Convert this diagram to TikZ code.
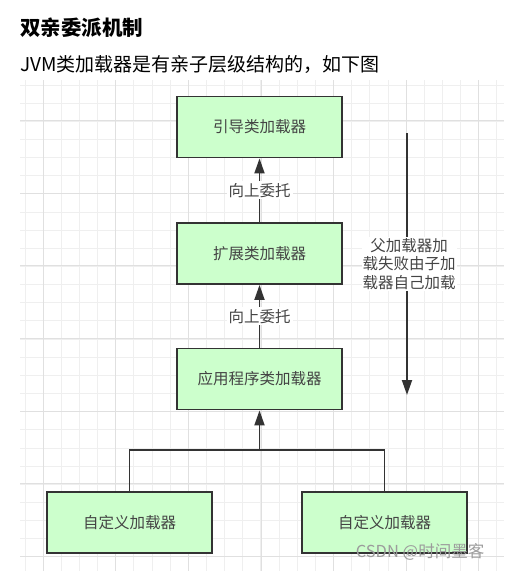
\documentclass[tikz,border=0pt]{standalone}
\usepackage{fontspec}
\setmainfont{Noto Sans CJK SC}
\usetikzlibrary{arrows.meta}
\definecolor{boxfill}{HTML}{CCFFCC}
\definecolor{edge}{HTML}{333333}
\definecolor{txt}{HTML}{444444}
\definecolor{gridminor}{HTML}{EFEFEF}
\definecolor{gridmajor}{HTML}{E0E0E0}
\definecolor{wm}{HTML}{9C9C9C}
\tikzset{
  loaderbox/.style={draw=edge, line width=1.9pt, fill=boxfill, minimum width=165pt, minimum height=61pt, inner sep=0pt, text=txt, font=\fontsize{15.5}{18.5}\selectfont},
  conn/.style={draw=edge, line width=1.9pt},
  arr/.style={conn, -{Triangle[length=15pt,width=10pt]}},
  lbl/.style={fill=white, inner sep=2pt, text=txt, font=\fontsize{15.5}{18.5}\selectfont},
  sidelbl/.style={fill=white, inner sep=1pt, text=txt, align=center, font=\fontsize{15.5}{18.5}\selectfont},
}
\begin{document}
\begin{tikzpicture}[x=1pt,y=-1pt]
\useasboundingbox (0,0) rectangle (504,571);
\fill[white] (0,0) rectangle (504,571);
% grid
\foreach \k in {0,...,26}{
  \draw[gridminor, line width=1pt] ({25+18.15*\k},80) -- ({25+18.15*\k},571);
  \draw[gridminor, line width=1pt] (20,{85+18.15*\k}) -- (504,{85+18.15*\k});
}
\foreach \m in {0,...,6}{
  \draw[gridmajor, line width=1pt] ({43.3+72.6*\m},80) -- ({43.3+72.6*\m},571);
  \draw[gridmajor, line width=1pt] (20,{120.7+72.6*\m}) -- (504,{120.7+72.6*\m});
}
% headings
\node[anchor=west, inner sep=0pt, font=\fontsize{20.5}{24}\selectfont\bfseries] (title) at (20,28) {双亲委派机制};
\node[anchor=west, inner sep=0pt, font=\fontsize{19}{23}\selectfont] (sub) at (20,64) {JVM类加载器是有亲子层级结构的，如下图};
% boxes
\node[loaderbox] (boot) at (259.5,127) {引导类加载器};
\node[loaderbox] (ext) at (259.5,253.5) {扩展类加载器};
\node[loaderbox] (app) at (259.5,379) {应用程序类加载器};
\node[loaderbox] (c1) at (129.5,522.5) {自定义加载器};
\node[loaderbox] (c2) at (384.5,522.5) {自定义加载器};
% connectors
\draw[arr] (ext.north) -- node[lbl] (l1) {向上委托} (boot.south);
\draw[arr] (app.north) -- node[lbl] (l2) {向上委托} (ext.south);
\coordinate (j) at (259.5,450);
\draw[conn] (c1.north) |- (j) -| (c2.north);
\draw[arr] (j) -- (app.south);
% side arrow
\coordinate (rtop) at (407,133);
\coordinate (rbot) at (407,395);
\draw[arr] (rtop) -- node[sidelbl, pos=0.5, xshift=2pt] (side) {父加载器加\\载失败由子加\\载器自己加载} (rbot);
% watermark
\node[text=wm, inner sep=0pt, font=\fontsize{16.5}{19}\selectfont] (mark) at (420,552) {CSDN @时间墨客};
\end{tikzpicture}
\end{document}
